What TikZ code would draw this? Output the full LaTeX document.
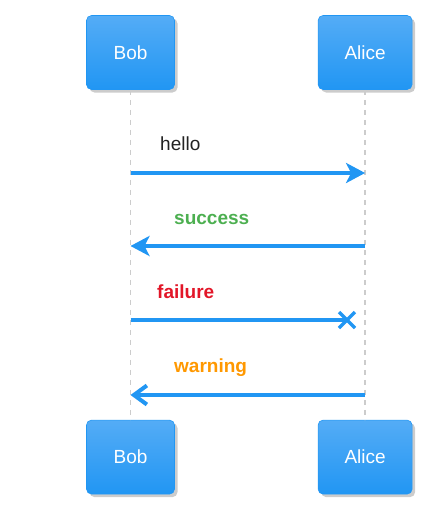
\documentclass[tikz,border=0pt]{standalone}
\usepackage{fontspec}
\setmainfont{Liberation Sans}
\usepackage{tikz}
\usetikzlibrary{arrows.meta,calc,positioning,shadows}
\definecolor{boxtop}{RGB}{84,172,246}
\definecolor{umlblue}{RGB}{33,150,243}
\definecolor{okgreen}{RGB}{76,175,80}
\definecolor{failred}{RGB}{226,22,40}
\definecolor{warnorange}{RGB}{255,152,0}
\definecolor{lifegray}{RGB}{204,204,204}
\definecolor{msgtext}{RGB}{34,34,34}

\begin{document}
\begin{tikzpicture}[
      x=1pt, y=-1pt,
      font=\fontsize{19}{22}\selectfont,
      actor/.style={draw=umlblue, line width=0.6pt, rounded corners=5pt,
        top color=boxtop, bottom color=umlblue, text=white,
        minimum height=74pt, minimum width=88pt, inner sep=0pt,
        drop shadow={opacity=0.4, shadow xshift=3pt, shadow yshift=-3pt}},
      lifeline/.style={draw=lifegray, line width=1.4pt, dash pattern=on 5pt off 5pt},
      msg/.style={draw=umlblue, line width=4pt},
      sync/.style={msg, -{Stealth[length=19pt, width=20pt, inset=5pt]}},
      async/.style={msg, -{Straight Barb[length=13pt, width=19pt]}},
      lbl/.style={anchor=base west, inner sep=0pt},
      bold/.style={lbl, font=\fontsize{19}{22}\selectfont\bfseries},
      cross/.style={draw=umlblue, line width=3.5pt}
    ]
    \useasboundingbox (0,0) rectangle (437,520);

    \node[actor] (bobtop) at (130.5,52.5) {Bob};
    \node[actor, minimum width=94pt, right=143pt of bobtop] (alicetop) {Alice};
    \node[actor, below=330pt of bobtop] (bobbot) {Bob};
    \node[actor, minimum width=94pt, below=330pt of alicetop] (alicebot) {Alice};

    \draw[lifeline] (bobtop) -- (bobbot);
    \draw[lifeline] (alicetop) -- (alicebot);

    % message rows
    \coordinate (b1) at (bobtop |- 0,173);
    \coordinate (a1) at (alicetop |- 0,173);
    \coordinate (b2) at (bobtop |- 0,246);
    \coordinate (a2) at (alicetop |- 0,246);
    \coordinate (b3) at (bobtop |- 0,320);
    \coordinate (lost) at (347,320);
    \coordinate (b4) at (bobtop |- 0,395);
    \coordinate (a4) at (alicetop |- 0,395);

    \draw[sync] (b1) -- (a1);
    \node[lbl, text=msgtext] (hello) at (160,150) {hello};

    \draw[sync] (a2) -- (b2);
    \node[bold, text=okgreen] (success) at (174,224) {success};

    \draw[msg] (b3) -- (lost);
    \draw[cross] ($(lost)+(-8,-8)$) -- ($(lost)+(8,8)$);
    \draw[cross] ($(lost)+(-8,8)$) -- ($(lost)+(8,-8)$);
    \node[bold, text=failred] (failure) at (157,298) {failure};

    \draw[async] (a4) -- (b4);
    \node[bold, text=warnorange] (warning) at (174,372) {warning};
  \end{tikzpicture}
\end{document}
